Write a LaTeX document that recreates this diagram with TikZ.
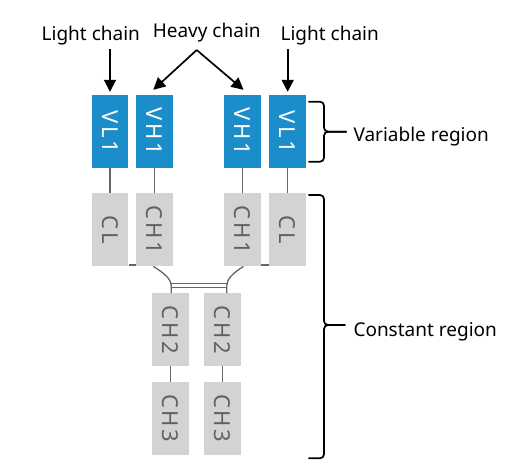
\documentclass[tikz,border=0pt]{standalone}
\usepackage{fontspec}
\setmainfont{Noto Sans}
\newfontfamily\boxfont[LetterSpace=12]{Noto Sans}
\usetikzlibrary{arrows.meta}
\definecolor{vblue}{HTML}{1B8DCA}
\definecolor{cgray}{HTML}{D3D3D3}
\definecolor{tgray}{HTML}{606060}
\definecolor{lgray}{HTML}{666666}
\tikzset{
  vbox/.style={rectangle, fill=vblue, draw=none, minimum width=36.7pt, minimum height=73pt, inner sep=0pt, text=white, font=\boxfont\fontsize{22}{22}\selectfont},
  cbox/.style={vbox, fill=cgray, text=tgray},
  link/.style={draw=lgray, line width=1.3pt},
  lbl/.style={inner sep=0pt, font=\fontsize{19}{22}\selectfont, text=black},
  arr/.style={-{Triangle[length=12pt,width=12pt]}, line width=1.7pt, draw=black},
  bracepath/.style={draw=black, line width=1.7pt, rounded corners=4pt}
}
\begin{document}
\begin{tikzpicture}[x=1pt,y=-1pt]
\useasboundingbox (0,0) rectangle (507,466);
% variable domains
\node[vbox] (vl1a) at (110,131.5) {\rotatebox{-90}{VL1}};
\node[vbox] (vh1a) at (154.3,131.5) {\rotatebox{-90}{VH1}};
\node[vbox] (vh1b) at (242.5,131.5) {\rotatebox{-90}{VH1}};
\node[vbox] (vl1b) at (287.7,131.5) {\rotatebox{-90}{VL1}};
% constant domains
\node[cbox] (cla) at (110,229.7) {\rotatebox{-90}{CL}};
\node[cbox] (ch1a) at (154.3,229.7) {\rotatebox{-90}{CH1}};
\node[cbox] (ch1b) at (242.5,229.7) {\rotatebox{-90}{CH1}};
\node[cbox] (clb) at (287.7,229.7) {\rotatebox{-90}{CL}};
\node[cbox] (ch2a) at (170.8,329.7) {\rotatebox{-90}{CH2}};
\node[cbox] (ch2b) at (222.5,329.7) {\rotatebox{-90}{CH2}};
\node[cbox] (ch3a) at (170.8,418.2) {\rotatebox{-90}{CH3}};
\node[cbox] (ch3b) at (222.5,418.2) {\rotatebox{-90}{CH3}};
% links
\draw[link] (vl1a) -- (cla);
\draw[link] (vh1a) -- (ch1a);
\draw[link] (vh1b) -- (ch1b);
\draw[link] (vl1b) -- (clb);
\draw[link] (ch2a) -- (ch3a);
\draw[link] (ch2b) -- (ch3b);
\draw[link] ([yshift=1.5pt]cla.south east) -- ([yshift=1.5pt]ch1a.south west);
\draw[link] ([yshift=1.5pt]ch1b.south east) -- ([yshift=1.5pt]clb.south west);
% hinge
\coordinate (ja) at (171.2,285.8);
\coordinate (jb) at (226.7,285.8);
\draw[draw=lgray, line width=1.2pt, double=white, double distance=2.8pt] (ja) -- (jb);
\draw[link] ([xshift=-1pt]ch1a.south) .. controls (164,273) and (171.2,279) .. (ja) -- (ja |- ch2a.north);
\draw[link] ([xshift=1pt]ch1b.south) .. controls (233,273) and (226.7,279) .. (jb) -- (jb |- ch2b.north);
% labels
\node[lbl, anchor=base] (lca) at (90.8,40.7) {Light chain};
\node[lbl, anchor=base] (hc) at (206.7,37) {Heavy chain};
\node[lbl, anchor=base] (lcb) at (329.7,40.7) {Light chain};
\node[lbl, anchor=base west] (vr) at (353.3,141.7) {Variable region};
\node[lbl, anchor=base west] (cr) at (353.3,336.5) {Constant region};
% arrows
\coordinate (hv) at (196.7,50);
\draw[arr] (lca.south -| vl1a.north) ++(0,4) -- ([yshift=3pt]vl1a.north);
\draw[arr] (lcb.south -| vl1b.north) ++(0,4) -- ([yshift=3pt]vl1b.north);
\draw[arr] (hv) -- ([xshift=-1pt,yshift=5pt]vh1a.north);
\draw[arr] (hv) -- ([xshift=1pt,yshift=5pt]vh1b.north);
% braces
\draw[bracepath] (308.3,101.7) -- (324,101.7) -- (324,131.7) -- ([xshift=-6.6pt]vr.west |- 0,131.7);
\draw[bracepath] (308.3,161.7) -- (324,161.7) -- (324,131.7) -- ([xshift=-6.6pt]vr.west |- 0,131.7);
\draw[bracepath] (308.3,195) -- (324,195) -- (324,325) -- ([xshift=-8pt]cr.west |- 0,325);
\draw[bracepath] (308.3,458.3) -- (324,458.3) -- (324,325) -- ([xshift=-8pt]cr.west |- 0,325);
\end{tikzpicture}
\end{document}
